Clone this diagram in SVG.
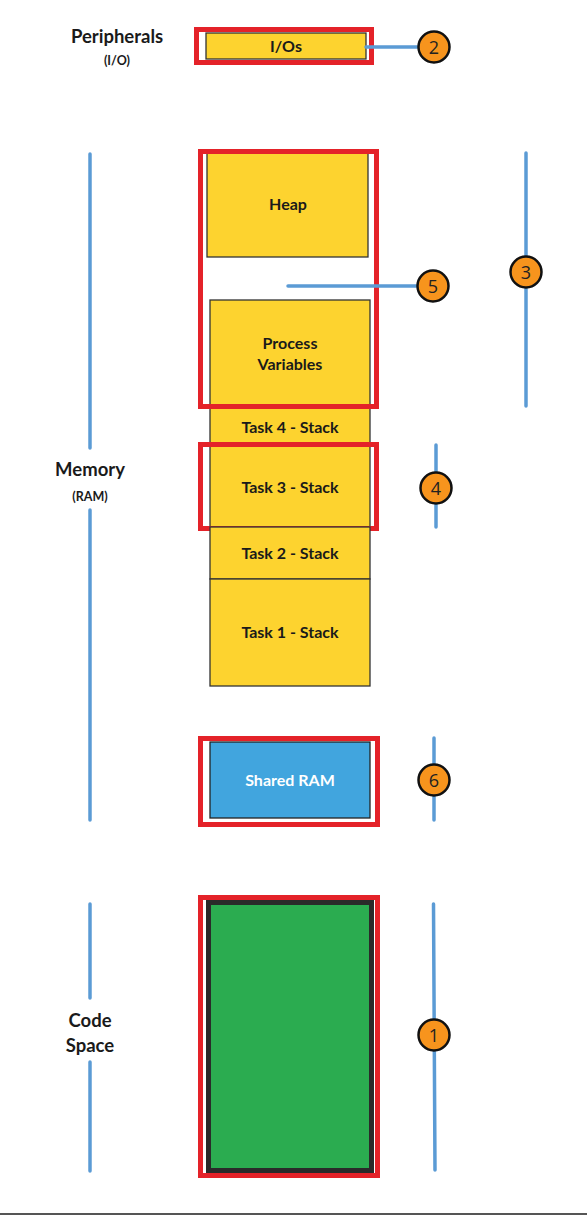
<svg xmlns="http://www.w3.org/2000/svg" width="587" height="1216" viewBox="0 0 587 1216">
<style>
.lbl{font-family:Lato,"Liberation Sans",sans-serif;font-weight:bold;fill:#1a1a1a;text-anchor:middle}
.big{font-size:18.5px}
.small{font-size:12.5px}
.box{font-size:16px}
.mem{fill:#FDD32F;stroke:#333;stroke-width:1.3}
.hl{fill:none;stroke:#E42229;stroke-width:5}
.conn{stroke:#5B9BD5;stroke-width:3.5;stroke-linecap:round;fill:none}
.badge{fill:#F7941D;stroke:#111;stroke-width:2.5}
.num{font-family:"Open Sans","Liberation Sans",sans-serif;font-size:18px;fill:#222;text-anchor:middle}
</style>
<rect width="587" height="1216" fill="#fff"/>

<g id="labels">
<text class="lbl big" x="117" y="43">Peripherals</text>
<text class="lbl small" x="117" y="65">(I/O)</text>
<text class="lbl big" x="90" y="476">Memory</text>
<text class="lbl small" x="90" y="501">(RAM)</text>
<text class="lbl big" x="90" y="1027">Code</text>
<text class="lbl big" x="90" y="1052">Space</text>
</g>

<g id="n-ios">
<rect class="mem" x="206" y="33" width="160" height="26"/>
<text class="lbl box" x="286" y="52">I/Os</text>
<rect class="hl" x="196.5" y="29.5" width="175" height="33"/>
</g>

<g id="n-heap">
<rect class="mem" x="207" y="152" width="161" height="105"/>
<text class="lbl box" x="288" y="210">Heap</text>
</g>

<g id="n-procvars">
<rect class="mem" x="210" y="300" width="160" height="108"/>
<text class="lbl box" x="290" y="349">Process</text>
<text class="lbl box" x="290" y="370">Variables</text>
</g>

<g id="n-task4">
<rect class="mem" x="210" y="408" width="160" height="37"/>
<text class="lbl box" x="290" y="433">Task 4 - Stack</text>
</g>

<g id="n-task3">
<rect class="mem" x="210" y="445" width="160" height="82"/>
<text class="lbl box" x="290" y="493">Task 3 - Stack</text>
<rect class="hl" x="200.5" y="444.5" width="176" height="84"/>
</g>

<g id="n-task2">
<rect class="mem" x="210" y="527" width="160" height="52"/>
<text class="lbl box" x="290" y="559">Task 2 - Stack</text>
</g>

<g id="n-task1">
<rect class="mem" x="210" y="579" width="160" height="107"/>
<text class="lbl box" x="290" y="638">Task 1 - Stack</text>
</g>

<g id="n-group5">
<rect class="hl" x="200.5" y="151.5" width="176" height="255"/>
</g>

<g id="n-shared">
<rect x="210" y="742" width="160" height="76" fill="#41A5DE" stroke="#222" stroke-width="1.3"/>
<text class="lbl box" x="290" y="786" style="fill:#fff">Shared RAM</text>
<rect class="hl" x="200.5" y="738.5" width="177" height="86"/>
</g>

<g id="n-code">
<rect x="208.5" y="902.5" width="163" height="268" fill="#2BAC50" stroke="#2a2a2a" stroke-width="5"/>
<rect class="hl" x="200.5" y="897.5" width="177" height="278"/>
</g>

<g id="connectors">
<line class="conn" x1="90" y1="154" x2="90" y2="448"/>
<line class="conn" x1="90" y1="510" x2="90" y2="820"/>
<line class="conn" x1="90" y1="904" x2="90" y2="998"/>
<line class="conn" x1="90" y1="1062" x2="90" y2="1171"/>
<line class="conn" x1="366" y1="47" x2="420" y2="47"/>
<line class="conn" x1="288" y1="286" x2="418" y2="286"/>
<line class="conn" x1="526" y1="153" x2="526" y2="406"/>
<line class="conn" x1="436" y1="445" x2="436" y2="527"/>
<line class="conn" x1="434" y1="738" x2="434" y2="820"/>
<line class="conn" x1="433.5" y1="904" x2="435" y2="1170"/>
</g>

<g id="b2"><circle class="badge" cx="434" cy="47" r="15.5"/><text class="num" x="434" y="53.5">2</text></g>
<g id="b5"><circle class="badge" cx="433" cy="286" r="15.5"/><text class="num" x="433" y="292.5">5</text></g>
<g id="b3"><circle class="badge" cx="526" cy="272" r="15.5"/><text class="num" x="526" y="278.5">3</text></g>
<g id="b4"><circle class="badge" cx="436" cy="488" r="15.5"/><text class="num" x="436" y="494.5">4</text></g>
<g id="b6"><circle class="badge" cx="434" cy="780" r="15.5"/><text class="num" x="434" y="786.5">6</text></g>
<g id="b1"><circle class="badge" cx="434" cy="1035" r="15.5"/><text class="num" x="434" y="1041.5">1</text></g>

<line x1="0" y1="1214" x2="587" y2="1214" stroke="#555" stroke-width="2"/>
</svg>
